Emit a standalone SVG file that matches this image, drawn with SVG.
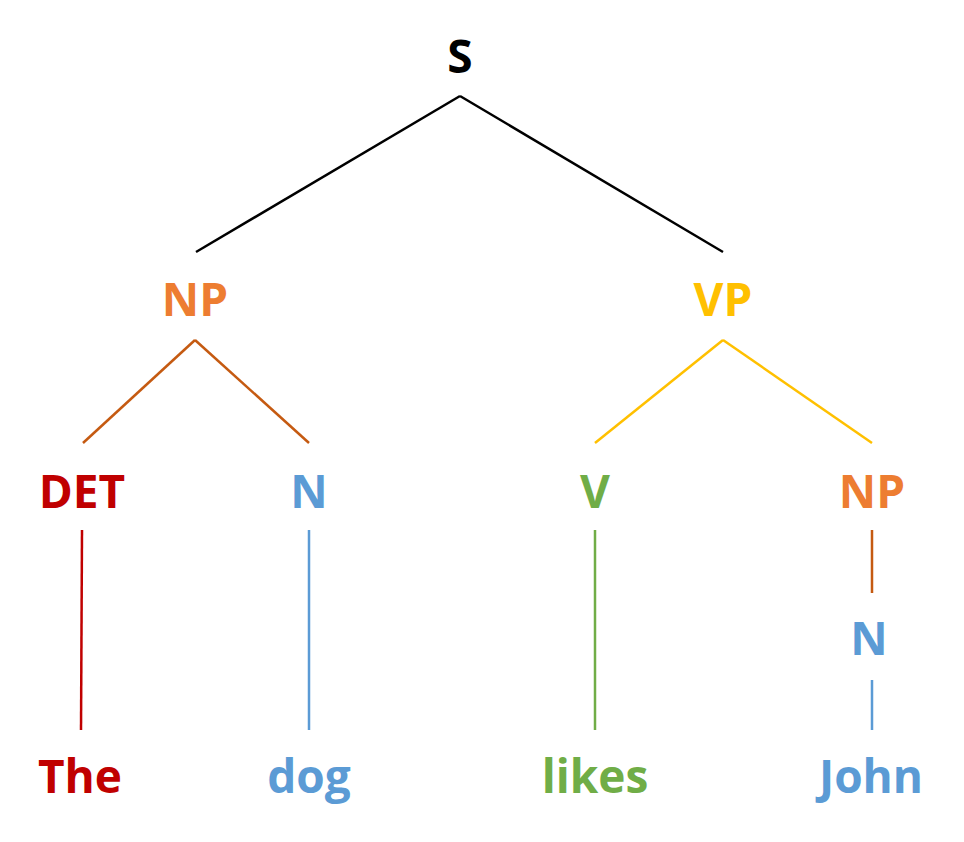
<svg xmlns="http://www.w3.org/2000/svg" width="964" height="842" viewBox="0 0 964 842">
<style>
text{font-family:"Open Sans","Liberation Sans",sans-serif;font-weight:bold;font-size:46px;text-anchor:middle}
line{stroke-width:2.5}
</style>
<rect width="964" height="842" fill="#fff"/>
<g id="connectors">
<line x1="460" y1="96" x2="196" y2="252" stroke="#000"/>
<line x1="460" y1="96" x2="723" y2="252" stroke="#000"/>
<line x1="195" y1="340" x2="83" y2="443" stroke="#C55A11"/>
<line x1="195" y1="340" x2="309" y2="443" stroke="#C55A11"/>
<line x1="723" y1="340" x2="595" y2="443" stroke="#FFC000"/>
<line x1="723" y1="340" x2="872" y2="443" stroke="#FFC000"/>
<line x1="82" y1="530" x2="81" y2="730" stroke="#C00000"/>
<line x1="309" y1="530" x2="309" y2="730" stroke="#5B9BD5"/>
<line x1="595" y1="530" x2="595" y2="730" stroke="#70AD47"/>
<line x1="872" y1="530" x2="872" y2="593" stroke="#C55A11"/>
<line x1="872" y1="680" x2="872" y2="730" stroke="#5B9BD5"/>
</g>
<g id="S"><text x="460" y="73" fill="#000">S</text></g>
<g id="NP1"><text x="195" y="316" fill="#ED7D31">NP</text></g>
<g id="VP"><text x="723" y="316" fill="#FFC000">VP</text></g>
<g id="DET"><text x="82" y="508" fill="#C00000">DET</text></g>
<g id="N1"><text x="309" y="508" fill="#5B9BD5">N</text></g>
<g id="V"><text x="595" y="508" fill="#70AD47">V</text></g>
<g id="NP2"><text x="872" y="508" fill="#ED7D31">NP</text></g>
<g id="N2"><text x="869" y="655" fill="#5B9BD5">N</text></g>
<g id="The"><text x="80" y="793" fill="#C00000">The</text></g>
<g id="dog"><text x="309" y="793" fill="#5B9BD5">dog</text></g>
<g id="likes"><text x="595" y="793" fill="#70AD47">likes</text></g>
<g id="John"><text x="871" y="793" fill="#5B9BD5">John</text></g>
</svg>
